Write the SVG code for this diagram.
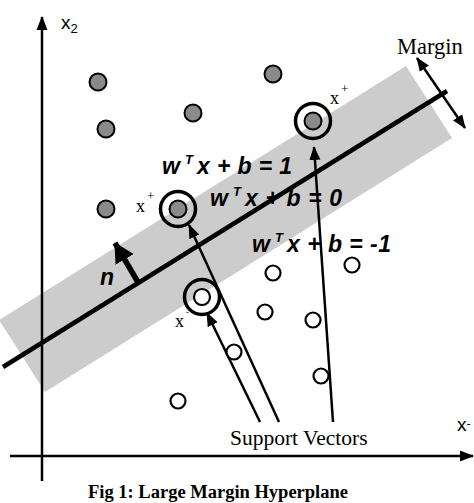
<svg xmlns="http://www.w3.org/2000/svg" width="474" height="503" viewBox="0 0 474 503">
<style>
.eq{font-family:"Liberation Sans",Arial,sans-serif;font-weight:bold;font-style:italic;font-size:23px;fill:#000}
.sup{font-family:"Liberation Sans",Arial,sans-serif;font-weight:bold;font-style:italic;font-size:13px;fill:#000}
.serif{font-family:"Liberation Serif","Times New Roman",serif;fill:#000}
.sans{font-family:"Liberation Sans",Arial,sans-serif;fill:#000}
.pos{fill:#8a8a8a;stroke:#000;stroke-width:2}
.neg{fill:#fff;stroke:#000;stroke-width:2.2}
.ring{fill:none;stroke:#000;stroke-width:3.5}
.ln{stroke:#000;stroke-width:2.5;fill:none}
</style>
<defs>
<marker id="ah" markerUnits="userSpaceOnUse" markerWidth="14" markerHeight="12" refX="13" refY="5.5" orient="auto-start-reverse" viewBox="0 0 14 11">
<path d="M0,0 L14,5.5 L0,11 z" fill="#000"/>
</marker>
<marker id="ahb" markerUnits="userSpaceOnUse" markerWidth="20" markerHeight="22" refX="19" refY="10.5" orient="auto" viewBox="0 0 20 21">
<path d="M0,0 L20,10.5 L0,21 z" fill="#000"/>
</marker>
</defs>
<rect width="474" height="503" fill="#fff"/>
<polygon points="406,66 452,138 45,392 -1,320" fill="#cccccc"/>
<g id="connectors">
<line id="y-axis" class="ln" x1="42" y1="481" x2="42" y2="17" marker-end="url(#ah)"/>
<line id="x-axis" class="ln" x1="10" y1="456" x2="473" y2="456" marker-end="url(#ah)"/>
<line id="hyperplane" x1="3" y1="367" x2="447" y2="91" stroke="#000" stroke-width="4.5"/>
<line id="margin-arrow" class="ln" x1="417" y1="58" x2="465" y2="128" marker-start="url(#ah)" marker-end="url(#ah)"/>
<line id="normal" x1="139" y1="284" x2="115" y2="243" stroke="#000" stroke-width="5.5" marker-end="url(#ahb)"/>
<line id="sv1" class="ln" x1="260" y1="422" x2="207" y2="313" marker-end="url(#ah)"/>
<line id="sv2" class="ln" x1="279" y1="422" x2="189" y2="225" marker-end="url(#ah)"/>
<line id="sv3" class="ln" x1="333" y1="422" x2="314" y2="147" marker-end="url(#ah)"/>
</g>
<g id="positive-points">
<circle class="pos" cx="98" cy="82" r="8.5"/>
<circle class="pos" cx="193" cy="113" r="8.5"/>
<circle class="pos" cx="106" cy="129" r="8.5"/>
<circle class="pos" cx="106" cy="209" r="8.5"/>
<circle class="pos" cx="273" cy="74" r="8.5"/>
</g>
<g id="negative-points">
<circle class="neg" cx="178" cy="401" r="7.5"/>
<circle class="neg" cx="273" cy="273" r="7.5"/>
<circle class="neg" cx="352" cy="265" r="7.5"/>
<circle class="neg" cx="265" cy="312" r="7.5"/>
<circle class="neg" cx="313" cy="320" r="7.5"/>
<circle class="neg" cx="321" cy="376" r="7.5"/>
<circle class="neg" cx="234" cy="352" r="7.5"/>
</g>
<g id="sv-pos-1">
<circle class="ring" cx="178" cy="209" r="17.5"/>
<circle class="pos" cx="178" cy="209" r="8.5"/>
<text class="serif" x="136" y="212" font-size="18">x</text>
<text class="serif" x="147" y="200" font-size="13">+</text>
</g>
<g id="sv-pos-2">
<circle class="ring" cx="313" cy="121" r="17.5"/>
<circle class="pos" cx="313" cy="121" r="8.5"/>
<text class="serif" x="330" y="104" font-size="18">x</text>
<text class="serif" x="341" y="93" font-size="13">+</text>
</g>
<g id="sv-neg">
<circle class="ring" cx="202" cy="297" r="17.5"/>
<circle class="neg" cx="202" cy="297" r="8"/>
<text class="serif" x="175" y="327" font-size="18">x</text>
<text class="serif" x="186" y="315" font-size="9">-</text>
</g>
<g id="labels">
<text class="sans" x="61" y="29" font-size="19">x<tspan font-size="13" dy="4">2</tspan></text>
<text class="sans" x="457" y="431" font-size="19">x<tspan font-size="13" dy="-3">-</tspan></text>
<text class="serif" x="397" y="54" font-size="22.5">Margin</text>
<text class="eq" x="100" y="285">n</text>
<text class="eq" x="162" y="174">w</text><text class="sup" x="185" y="164">T</text>
<text class="eq" x="197" y="174" textLength="95" lengthAdjust="spacing">x + b = 1</text>
<text class="eq" x="210" y="206">w</text><text class="sup" x="233" y="196">T</text>
<text class="eq" x="245" y="206" textLength="97" lengthAdjust="spacing">x + b = 0</text>
<text class="eq" x="252" y="252">w</text><text class="sup" x="275" y="242">T</text>
<text class="eq" x="287" y="252" textLength="104" lengthAdjust="spacing">x + b = -1</text>
<text class="serif" x="230" y="445" font-size="21.5">Support Vectors</text>
<text class="serif" x="88" y="498" font-size="18.5" font-weight="bold">Fig 1: Large Margin Hyperplane</text>
</g>
</svg>
